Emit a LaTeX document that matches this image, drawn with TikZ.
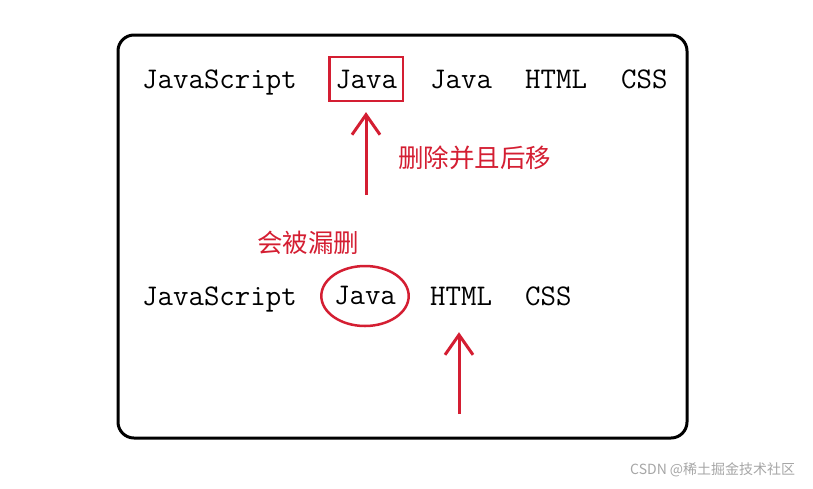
\documentclass[tikz,border=0pt]{standalone}
\usepackage{fontspec}
\usetikzlibrary{arrows.meta,shapes.geometric}
\newfontfamily\cjk{Noto Sans CJK SC}
\definecolor{myred}{RGB}{212,30,50}

\begin{document}
\begin{tikzpicture}[x=1pt,y=-1pt,
  word/.style={anchor=base west,inner sep=0pt,font=\fontsize{30}{36}\selectfont\ttfamily},
  note/.style={anchor=west,inner sep=0pt,text=myred,font=\fontsize{25.5}{30}\selectfont\cjk},
  uparrow/.style={draw=myred,line width=3pt,-{Straight Barb[length=20pt,width=28pt]}}]
\useasboundingbox (0,0) rectangle (813,488);
\draw[line width=3pt,rounded corners=16pt] (118,35) rectangle (687,438);
\begin{scope}
\node[word] (1) at (142,88) {JavaScript};
\node[word,draw=myred,line width=2.5pt,inner xsep=6pt,inner ysep=12.5pt] (2) at (328,88) {Java};
\node[word] (3) at (430,88) {Java};
\node[word] (4) at (525,88) {HTML};
\node[word] (5) at (621,88) {CSS};
\coordinate (a) at (366,195);
\path[uparrow,shorten >=10pt] (a) -- (a |- 2.south);
\node[note] (del) at (398,158) {删除并且后移};
\end{scope}
\begin{scope}
\node[word] (1) at (142,305) {JavaScript};
\node[word,anchor=center,ellipse,draw=myred,line width=2.5pt,minimum width=86pt,minimum height=60pt] (2) at (365,296) {Java};
\node[word] (3) at (430,305) {HTML};
\node[word] (4) at (525,305) {CSS};
\coordinate (b) at (459,414);
\path[uparrow,shorten >=27pt] (b) -- (b |- 3.south);
\node[note] (miss) at (257,243) {会被漏删};
\end{scope}
\node[anchor=west,inner sep=0pt,text=black!35,font=\fontsize{14}{16}\selectfont\cjk] (wm) at (630,470) {CSDN @稀土掘金技术社区};
\end{tikzpicture}
\end{document}
